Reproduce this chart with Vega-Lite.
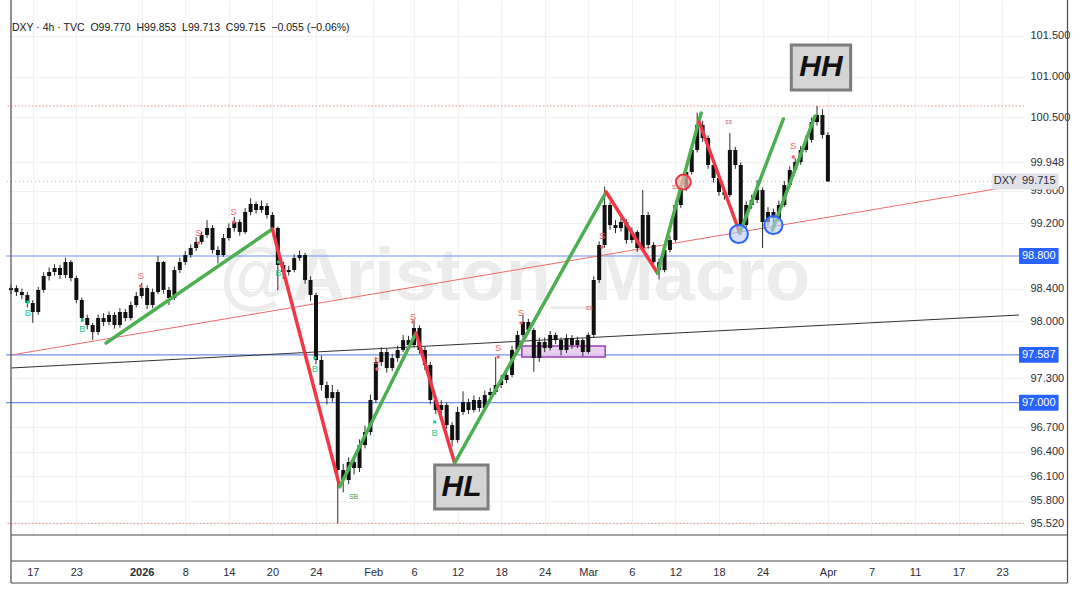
{
 "$schema": "https://vega.github.io/schema/vega-lite/v6.json",
 "width": 1018,
 "height": 535,
 "autosize": {"type": "none"},
 "padding": {"left": 6, "top": 0, "right": 56, "bottom": 57},
 "background": "white",
 "config": {"view": {"stroke": null}, "font": "Liberation Sans"},
 "title": {"text": "DXY · 4h · TVC\u00a0 O99.770\u00a0 H99.853\u00a0 L99.713\u00a0 C99.715\u00a0 −0.055 (−0.06%)", "anchor": "start", "frame": "group", "offset": 0, "dx": 6, "dy": 42, "fontSize": 10.5, "fontWeight": "normal", "color": "#131722", "baseline": "alphabetic"},
 "resolve": {"axis": {"x": "independent", "y": "independent"}},
 "datasets": {
  "candles": [
{"t":0,"o":98.38,"h":98.45,"l":98.33,"c":98.407},
{"t":0.5,"o":98.407,"h":98.44,"l":98.31,"c":98.358},
{"t":1,"o":98.358,"h":98.4,"l":98.27,"c":98.321},
{"t":1.5,"o":98.321,"h":98.36,"l":98.17,"c":98.223},
{"t":2,"o":98.223,"h":98.26,"l":97.98,"c":98.113},
{"t":2.5,"o":98.113,"h":98.42,"l":98.08,"c":98.383},
{"t":3,"o":98.383,"h":98.6,"l":98.35,"c":98.555},
{"t":3.5,"o":98.555,"h":98.66,"l":98.5,"c":98.604},
{"t":4,"o":98.604,"h":98.7,"l":98.56,"c":98.653},
{"t":4.5,"o":98.653,"h":98.69,"l":98.52,"c":98.567},
{"t":5,"o":98.567,"h":98.78,"l":98.53,"c":98.726},
{"t":5.5,"o":98.726,"h":98.75,"l":98.49,"c":98.53},
{"t":6,"o":98.53,"h":98.56,"l":98.22,"c":98.26},
{"t":6.5,"o":98.26,"h":98.29,"l":97.99,"c":98.039},
{"t":7,"o":98.039,"h":98.08,"l":97.9,"c":97.953},
{"t":7.5,"o":97.953,"h":97.98,"l":97.77,"c":97.867},
{"t":8,"o":97.867,"h":98.08,"l":97.83,"c":98.039},
{"t":8.5,"o":98.039,"h":98.1,"l":97.94,"c":97.99},
{"t":9,"o":97.99,"h":98.12,"l":97.95,"c":98.076},
{"t":9.5,"o":98.076,"h":98.11,"l":97.91,"c":97.953},
{"t":10,"o":97.953,"h":98.16,"l":97.92,"c":98.113},
{"t":10.5,"o":98.113,"h":98.15,"l":98.0,"c":98.039},
{"t":11,"o":98.039,"h":98.24,"l":98.01,"c":98.199},
{"t":11.5,"o":98.199,"h":98.36,"l":98.17,"c":98.309},
{"t":12,"o":98.309,"h":98.47,"l":98.28,"c":98.407},
{"t":12.5,"o":98.407,"h":98.44,"l":98.15,"c":98.199},
{"t":13,"o":98.199,"h":98.4,"l":98.16,"c":98.358},
{"t":13.5,"o":98.358,"h":98.8,"l":98.33,"c":98.726},
{"t":14,"o":98.726,"h":98.74,"l":98.34,"c":98.383},
{"t":14.5,"o":98.383,"h":98.42,"l":98.2,"c":98.285},
{"t":15,"o":98.285,"h":98.67,"l":98.26,"c":98.628},
{"t":15.5,"o":98.628,"h":98.78,"l":98.59,"c":98.726},
{"t":16,"o":98.726,"h":98.86,"l":98.69,"c":98.812},
{"t":16.5,"o":98.812,"h":98.94,"l":98.78,"c":98.898},
{"t":17,"o":98.898,"h":99.03,"l":98.86,"c":98.972},
{"t":17.5,"o":98.972,"h":99.1,"l":98.94,"c":99.058},
{"t":18,"o":99.058,"h":99.24,"l":99.02,"c":99.144},
{"t":18.5,"o":99.144,"h":99.18,"l":98.83,"c":98.874},
{"t":19,"o":98.874,"h":98.92,"l":98.71,"c":98.812},
{"t":19.5,"o":98.812,"h":99.07,"l":98.79,"c":99.021},
{"t":20,"o":99.021,"h":99.2,"l":98.99,"c":99.144},
{"t":20.5,"o":99.144,"h":99.28,"l":99.1,"c":99.217},
{"t":21,"o":99.217,"h":99.25,"l":99.05,"c":99.094},
{"t":21.5,"o":99.094,"h":99.39,"l":99.07,"c":99.34},
{"t":22,"o":99.34,"h":99.51,"l":99.3,"c":99.438},
{"t":22.5,"o":99.438,"h":99.47,"l":99.32,"c":99.364},
{"t":23,"o":99.364,"h":99.48,"l":99.33,"c":99.414},
{"t":23.5,"o":99.414,"h":99.45,"l":99.26,"c":99.303},
{"t":24,"o":99.303,"h":99.34,"l":99.1,"c":99.144},
{"t":24.5,"o":99.144,"h":99.16,"l":98.38,"c":98.69},
{"t":25,"o":98.69,"h":98.73,"l":98.52,"c":98.604},
{"t":25.5,"o":98.604,"h":98.68,"l":98.56,"c":98.628},
{"t":26,"o":98.628,"h":98.82,"l":98.6,"c":98.775},
{"t":26.5,"o":98.775,"h":98.87,"l":98.74,"c":98.812},
{"t":27,"o":98.812,"h":98.84,"l":98.46,"c":98.506},
{"t":27.5,"o":98.506,"h":98.55,"l":98.25,"c":98.321},
{"t":28,"o":98.321,"h":98.35,"l":97.47,"c":97.524},
{"t":28.5,"o":97.524,"h":97.58,"l":97.15,"c":97.217},
{"t":29,"o":97.217,"h":97.26,"l":96.98,"c":97.058},
{"t":29.5,"o":97.058,"h":97.22,"l":97.01,"c":97.131},
{"t":30,"o":97.131,"h":97.16,"l":95.52,"c":96.174},
{"t":30.5,"o":96.174,"h":96.25,"l":95.9,"c":96.052},
{"t":31,"o":96.052,"h":96.33,"l":96.0,"c":96.272},
{"t":31.5,"o":96.272,"h":96.35,"l":96.12,"c":96.199},
{"t":32,"o":96.199,"h":96.55,"l":96.15,"c":96.481},
{"t":32.5,"o":96.481,"h":96.72,"l":96.44,"c":96.64},
{"t":33,"o":96.64,"h":97.1,"l":96.6,"c":97.033},
{"t":33.5,"o":97.033,"h":97.56,"l":97.0,"c":97.499},
{"t":34,"o":97.499,"h":97.68,"l":97.45,"c":97.622},
{"t":34.5,"o":97.622,"h":97.66,"l":97.37,"c":97.426},
{"t":35,"o":97.426,"h":97.6,"l":97.39,"c":97.548},
{"t":35.5,"o":97.548,"h":97.7,"l":97.5,"c":97.647},
{"t":36,"o":97.647,"h":97.83,"l":97.62,"c":97.769},
{"t":36.5,"o":97.769,"h":97.82,"l":97.66,"c":97.708},
{"t":37,"o":97.708,"h":98.01,"l":97.68,"c":97.917},
{"t":37.5,"o":97.917,"h":97.95,"l":97.6,"c":97.647},
{"t":38,"o":97.647,"h":97.69,"l":97.4,"c":97.463},
{"t":38.5,"o":97.463,"h":97.5,"l":96.98,"c":97.033},
{"t":39,"o":97.033,"h":97.08,"l":96.86,"c":96.91},
{"t":39.5,"o":96.91,"h":97.03,"l":96.87,"c":96.972},
{"t":40,"o":96.972,"h":97.0,"l":96.68,"c":96.726},
{"t":40.5,"o":96.726,"h":96.76,"l":96.46,"c":96.542},
{"t":41,"o":96.542,"h":96.95,"l":96.51,"c":96.886},
{"t":41.5,"o":96.886,"h":97.14,"l":96.85,"c":97.009},
{"t":42,"o":97.009,"h":97.05,"l":96.86,"c":96.91},
{"t":42.5,"o":96.91,"h":97.09,"l":96.88,"c":97.033},
{"t":43,"o":97.033,"h":97.07,"l":96.89,"c":96.935},
{"t":43.5,"o":96.935,"h":97.15,"l":96.91,"c":97.094},
{"t":44,"o":97.094,"h":97.18,"l":97.05,"c":97.131},
{"t":44.5,"o":97.131,"h":97.56,"l":97.1,"c":97.217},
{"t":45,"o":97.217,"h":97.34,"l":97.18,"c":97.279},
{"t":45.5,"o":97.279,"h":97.4,"l":97.24,"c":97.34},
{"t":46,"o":97.34,"h":97.7,"l":97.31,"c":97.647},
{"t":46.5,"o":97.647,"h":97.88,"l":97.6,"c":97.831},
{"t":47,"o":97.831,"h":98.08,"l":97.8,"c":97.99},
{"t":47.5,"o":97.99,"h":98.03,"l":97.84,"c":97.892},
{"t":48,"o":97.892,"h":97.92,"l":97.38,"c":97.548},
{"t":48.5,"o":97.548,"h":97.8,"l":97.5,"c":97.745},
{"t":49,"o":97.745,"h":97.8,"l":97.62,"c":97.671},
{"t":49.5,"o":97.671,"h":97.88,"l":97.64,"c":97.831},
{"t":50,"o":97.831,"h":97.86,"l":97.72,"c":97.769},
{"t":50.5,"o":97.769,"h":97.8,"l":97.58,"c":97.647},
{"t":51,"o":97.647,"h":97.84,"l":97.61,"c":97.794},
{"t":51.5,"o":97.794,"h":97.83,"l":97.66,"c":97.708},
{"t":52,"o":97.708,"h":97.81,"l":97.67,"c":97.769},
{"t":52.5,"o":97.769,"h":97.79,"l":97.57,"c":97.622},
{"t":53,"o":97.622,"h":97.86,"l":97.6,"c":97.831},
{"t":53.5,"o":97.831,"h":98.55,"l":97.8,"c":98.506},
{"t":54,"o":98.506,"h":98.98,"l":98.47,"c":98.935},
{"t":54.5,"o":98.935,"h":99.65,"l":98.9,"c":99.426},
{"t":55,"o":99.426,"h":99.46,"l":99.12,"c":99.18},
{"t":55.5,"o":99.18,"h":99.24,"l":99.08,"c":99.144},
{"t":56,"o":99.144,"h":99.27,"l":99.1,"c":99.217},
{"t":56.5,"o":99.217,"h":99.25,"l":98.95,"c":98.996},
{"t":57,"o":98.996,"h":99.15,"l":98.96,"c":99.094},
{"t":57.5,"o":99.094,"h":99.12,"l":98.85,"c":98.898},
{"t":58,"o":98.898,"h":99.61,"l":98.87,"c":99.303},
{"t":58.5,"o":99.303,"h":99.34,"l":98.89,"c":98.935},
{"t":59,"o":98.935,"h":98.97,"l":98.68,"c":98.726},
{"t":59.5,"o":98.726,"h":98.77,"l":98.51,"c":98.628},
{"t":60,"o":98.628,"h":98.92,"l":98.6,"c":98.874},
{"t":60.5,"o":98.874,"h":99.05,"l":98.84,"c":98.996},
{"t":61,"o":98.996,"h":99.47,"l":98.97,"c":99.426},
{"t":61.5,"o":99.426,"h":99.69,"l":99.39,"c":99.634},
{"t":62,"o":99.634,"h":99.88,"l":99.6,"c":99.831},
{"t":62.5,"o":99.831,"h":100.15,"l":99.8,"c":100.101},
{"t":63,"o":100.101,"h":100.56,"l":100.07,"c":100.407},
{"t":63.5,"o":100.407,"h":100.46,"l":100.2,"c":100.248},
{"t":64,"o":100.248,"h":100.28,"l":99.87,"c":99.917},
{"t":64.5,"o":99.917,"h":99.96,"l":99.7,"c":99.757},
{"t":65,"o":99.757,"h":99.79,"l":99.54,"c":99.585},
{"t":65.5,"o":99.585,"h":99.62,"l":99.49,"c":99.548},
{"t":66,"o":99.548,"h":100.31,"l":99.52,"c":100.101},
{"t":66.5,"o":100.101,"h":100.14,"l":99.87,"c":99.917},
{"t":67,"o":99.917,"h":99.95,"l":99.08,"c":99.18},
{"t":67.5,"o":99.18,"h":99.47,"l":99.15,"c":99.426},
{"t":68,"o":99.426,"h":99.55,"l":99.38,"c":99.487},
{"t":68.5,"o":99.487,"h":99.73,"l":99.45,"c":99.61},
{"t":69,"o":99.61,"h":99.64,"l":98.9,"c":99.217},
{"t":69.5,"o":99.217,"h":99.4,"l":99.17,"c":99.34},
{"t":70,"o":99.34,"h":99.38,"l":99.18,"c":99.266},
{"t":70.5,"o":99.266,"h":99.48,"l":99.22,"c":99.426},
{"t":71,"o":99.426,"h":99.72,"l":99.4,"c":99.671},
{"t":71.5,"o":99.671,"h":99.9,"l":99.63,"c":99.855},
{"t":72,"o":99.855,"h":100.0,"l":99.82,"c":99.953},
{"t":72.5,"o":99.953,"h":100.15,"l":99.92,"c":100.101},
{"t":73,"o":100.101,"h":100.28,"l":100.07,"c":100.223},
{"t":73.5,"o":100.223,"h":100.5,"l":100.19,"c":100.444},
{"t":74,"o":100.444,"h":100.64,"l":100.4,"c":100.53},
{"t":74.5,"o":100.53,"h":100.6,"l":100.24,"c":100.285},
{"t":75,"o":100.285,"h":100.32,"l":99.71,"c":99.715}
  ],
  "legs": [
   {"t":8.73,"p":97.733,"t2":24.0,"p2":99.131,"dir":"up"},
   {"t":24.0,"p":99.131,"t2":30.18,"p2":95.97,"dir":"down"},
   {"t":30.18,"p":95.97,"t2":37.18,"p2":97.855,"dir":"up"},
   {"t":37.18,"p":97.855,"t2":40.73,"p2":96.26,"dir":"down"},
   {"t":40.73,"p":96.26,"t2":54.64,"p2":99.585,"dir":"up"},
   {"t":54.64,"p":99.585,"t2":59.36,"p2":98.591,"dir":"down"},
   {"t":59.36,"p":98.591,"t2":63.36,"p2":100.555,"dir":"up"},
   {"t":63.18,"p":100.444,"t2":66.91,"p2":99.082,"dir":"down"},
   {"t":66.91,"p":99.082,"t2":70.91,"p2":100.481,"dir":"up"},
   {"t":69.91,"p":99.119,"t2":73.82,"p2":100.518,"dir":"up"}
  ],
  "signals": [
   {"t":1.55,"p":98.1,"pd":98.236,"txt":"B","dir":"buy"},
   {"t":6.55,"p":97.9,"pd":98.015,"txt":"B","dir":"buy"},
   {"t":11.9,"p":98.555,"pd":98.432,"txt":"S","dir":"sell"},
   {"t":17.2,"p":99.082,"pd":98.96,"txt":"S","dir":"sell"},
   {"t":20.45,"p":99.34,"pd":99.217,"txt":"S","dir":"sell"},
   {"t":24.55,"p":98.59,"pd":98.726,"txt":"B","dir":"buy"},
   {"t":27.9,"p":97.413,"pd":97.548,"txt":"B","dir":"buy"},
   {"t":33.6,"p":97.512,"pd":97.413,"txt":"S","dir":"sell"},
   {"t":36.9,"p":98.052,"pd":97.99,"txt":"S","dir":"sell"},
   {"t":38.9,"p":96.628,"pd":96.763,"txt":"B","dir":"buy"},
   {"t":44.73,"p":97.671,"pd":97.561,"txt":"S","dir":"sell"},
   {"t":46.82,"p":98.101,"pd":97.978,"txt":"S","dir":"sell"},
   {"t":54.27,"p":99.045,"pd":98.91,"txt":"S","dir":"sell"},
   {"t":71.82,"p":100.15,"pd":100.015,"txt":"S","dir":"sell"}
  ],
  "smallsignals": [
   {"t":31.45,"p":95.843,"txt":"SB","dir":"sb"},
   {"t":53.09,"p":98.162,"txt":"ss","dir":"ss"},
   {"t":61.0,"p":99.647,"txt":"ss","dir":"ss"},
   {"t":65.9,"p":100.444,"txt":"ss","dir":"ss"}
  ]
 },
 "layer": [
  {
   "data": {"name": "candles"},
   "mark": {"type": "rule", "opacity": 0},
   "encoding": {
    "x": {"field":"t","type":"quantitative","scale":{"domain":[0,92.545],"nice":false,"zero":false},
      "axis": {"orient":"bottom","offset":26,"values":[2,6,12,16,20,24,28,33.25,37,41,45,49,53,57,61,65,69,75,79,83,87,91],
        "labelExpr":"['17','23','2026','8','14','20','24','Feb','6','12','18','24','Mar','6','12','18','24','Apr','7','11','17','23'][indexof([2,6,12,16,20,24,28,33.25,37,41,45,49,53,57,61,65,69,75,79,83,87,91], datum.value)]",
        "labelFontWeight":{"condition":{"test":"datum.value == 12","value":"bold"},"value":"normal"},
        "title":null,"domain":false,"ticks":false,"grid":true,"gridColor":"#f1f1f1","labelFontSize":11,"labelColor":"#2a2e39","labelPadding":5,"labelOverlap":false,"labelFlush":false,"labelBound":false}},
    "y": {"field":"l","type":"quantitative","scale":{"domain":[95.377,101.941],"nice":false,"zero":false},
      "axis": {"orient":"right","values":[101.5,101,100.5,99.948,99.6,99.2,98.4,98,97.3,96.7,96.4,96.1,95.8,95.52],"format":".3f","title":null,"domain":false,"ticks":false,"grid":true,"gridColor":"#f1f1f1","labelFontSize":11,"labelColor":"#2a2e39","labelPadding":6,"labelOverlap":false,"labelBound":false}},
    "y2": {"field":"h"}
   }
  },
  {
   "data": {"values": [{"t":46.27,"p":98.26,"txt":"@Ariston_Macro"}]},
   "mark": {"type": "text", "fontSize": 74, "fontWeight": "bold", "color": "#ececec", "align": "center", "baseline": "alphabetic"},
   "encoding": {
    "x": {"field":"t","type":"quantitative","scale":{"domain":[0,92.545],"nice":false,"zero":false},"axis":null},
    "y": {"field":"p","type":"quantitative","scale":{"domain":[95.377,101.941],"nice":false,"zero":false},"axis":null},
    "text": {"field":"txt"}
   }
  },
  {
   "data": {"values": [{"p":98.8},{"p":97.587},{"p":97.0}]},
   "mark": {"type": "rule", "color": "#6e8ff2", "strokeWidth": 1.2},
   "encoding": {
    "y": {"field":"p","type":"quantitative","scale":{"domain":[95.377,101.941],"nice":false,"zero":false},"axis":null}
   }
  },
  {
   "data": {"values": [{"p":100.64},{"p":95.52}]},
   "mark": {"type": "rule", "color": "#ef8a8a", "strokeWidth": 1, "strokeDash": [1.5, 2]},
   "encoding": {
    "y": {"field":"p","type":"quantitative","scale":{"domain":[95.377,101.941],"nice":false,"zero":false},"axis":null}
   }
  },
  {
   "data": {"values": [{"p":99.715}]},
   "mark": {"type": "rule", "color": "#d9b3b3", "strokeWidth": 1, "strokeDash": [1, 3]},
   "encoding": {
    "y": {"field":"p","type":"quantitative","scale":{"domain":[95.377,101.941],"nice":false,"zero":false},"axis":null}
   }
  },
  {
   "data": {"values": [{"t":0,"p":97.585,"t2":92.545,"p2":99.671,"kind":"red"}]},
   "mark": {"type": "rule", "color": "#ee6a6a", "strokeWidth": 1},
   "encoding": {
    "x": {"field":"t","type":"quantitative","scale":{"domain":[0,92.545],"nice":false,"zero":false},"axis":null},
    "y": {"field":"p","type":"quantitative","scale":{"domain":[95.377,101.941],"nice":false,"zero":false},"axis":null},
    "x2": {"field":"t2"},
    "y2": {"field":"p2"}
   }
  },
  {
   "data": {"values": [{"t":0,"p":97.426,"t2":92.545,"p2":98.076,"kind":"black"}]},
   "mark": {"type": "rule", "color": "#333333", "strokeWidth": 1},
   "encoding": {
    "x": {"field":"t","type":"quantitative","scale":{"domain":[0,92.545],"nice":false,"zero":false},"axis":null},
    "y": {"field":"p","type":"quantitative","scale":{"domain":[95.377,101.941],"nice":false,"zero":false},"axis":null},
    "x2": {"field":"t2"},
    "y2": {"field":"p2"}
   }
  },
  {
   "data": {"values": [{"t":46.9,"p":97.561,"t2":54.55,"p2":97.696}]},
   "mark": {"type": "rect", "fill": "#e6c8ee", "fillOpacity": 0.85, "stroke": "#9c3cb8", "strokeWidth": 1.5},
   "encoding": {
    "x": {"field":"t","type":"quantitative","scale":{"domain":[0,92.545],"nice":false,"zero":false},"axis":null},
    "y": {"field":"p","type":"quantitative","scale":{"domain":[95.377,101.941],"nice":false,"zero":false},"axis":null},
    "x2": {"field":"t2"},
    "y2": {"field":"p2"}
   }
  },
  {
   "data": {"name": "candles"},
   "mark": {"type": "rule", "color": "#2b2b2b", "strokeWidth": 1},
   "encoding": {
    "x": {"field":"t","type":"quantitative","scale":{"domain":[0,92.545],"nice":false,"zero":false},"axis":null},
    "y": {"field":"l","type":"quantitative","scale":{"domain":[95.377,101.941],"nice":false,"zero":false},"axis":null},
    "y2": {"field":"h"}
   }
  },
  {
   "data": {"name": "candles"},
   "mark": {"type": "bar", "size": 4, "color": "#111111"},
   "encoding": {
    "x": {"field":"t","type":"quantitative","scale":{"domain":[0,92.545],"nice":false,"zero":false},"axis":null},
    "y": {"field":"o","type":"quantitative","scale":{"domain":[95.377,101.941],"nice":false,"zero":false},"axis":null},
    "y2": {"field":"c"}
   }
  },
  {
   "data": {"name": "legs"},
   "mark": {"type": "rule", "strokeWidth": 3.5, "strokeCap": "round"},
   "encoding": {
    "x": {"field":"t","type":"quantitative","scale":{"domain":[0,92.545],"nice":false,"zero":false},"axis":null},
    "y": {"field":"p","type":"quantitative","scale":{"domain":[95.377,101.941],"nice":false,"zero":false},"axis":null},
    "x2": {"field":"t2"},
    "y2": {"field":"p2"},
    "color": {"field":"dir","type":"nominal","scale":{"domain":["up","down","sell","buy","sb","ss"],"range":["#4caf50","#f23645","#f2636f","#1ccf8a","#3f9e48","#cc6b6b"]},"legend":null}
   }
  },
  {
   "data": {"values": [{"t":61.73,"p":99.708}]},
   "mark": {"type": "point", "shape": "circle", "size": 220, "filled": false, "fill": "#f6b3b3", "fillOpacity": 0.7, "stroke": "#f23645", "strokeWidth": 2},
   "encoding": {
    "x": {"field":"t","type":"quantitative","scale":{"domain":[0,92.545],"nice":false,"zero":false},"axis":null},
    "y": {"field":"p","type":"quantitative","scale":{"domain":[95.377,101.941],"nice":false,"zero":false},"axis":null}
   }
  },
  {
   "data": {"values": [{"t":66.82,"p":99.07},{"t":70.0,"p":99.18}]},
   "mark": {"type": "point", "shape": "circle", "size": 330, "filled": false, "fill": "#b7c9f5", "fillOpacity": 0.6, "stroke": "#2962ff", "strokeWidth": 2},
   "encoding": {
    "x": {"field":"t","type":"quantitative","scale":{"domain":[0,92.545],"nice":false,"zero":false},"axis":null},
    "y": {"field":"p","type":"quantitative","scale":{"domain":[95.377,101.941],"nice":false,"zero":false},"axis":null}
   }
  },
  {
   "data": {"name": "signals"},
   "mark": {"type": "point", "shape": "circle", "size": 12, "filled": true, "opacity": 1},
   "encoding": {
    "x": {"field":"t","type":"quantitative","scale":{"domain":[0,92.545],"nice":false,"zero":false},"axis":null},
    "y": {"field":"pd","type":"quantitative","scale":{"domain":[95.377,101.941],"nice":false,"zero":false},"axis":null},
    "color": {"field":"dir","type":"nominal","scale":{"domain":["up","down","sell","buy","sb","ss"],"range":["#4caf50","#f23645","#f2636f","#1ccf8a","#3f9e48","#cc6b6b"]},"legend":null}
   }
  },
  {
   "data": {"name": "signals"},
   "mark": {"type": "text", "fontSize": 9.5, "align": "center", "baseline": "middle"},
   "encoding": {
    "x": {"field":"t","type":"quantitative","scale":{"domain":[0,92.545],"nice":false,"zero":false},"axis":null},
    "y": {"field":"p","type":"quantitative","scale":{"domain":[95.377,101.941],"nice":false,"zero":false},"axis":null},
    "text": {"field":"txt"},
    "color": {"field":"dir","type":"nominal","scale":{"domain":["up","down","sell","buy","sb","ss"],"range":["#4caf50","#f23645","#f2636f","#1ccf8a","#3f9e48","#cc6b6b"]},"legend":null}
   }
  },
  {
   "data": {"name": "smallsignals"},
   "mark": {"type": "text", "fontSize": 7, "align": "center", "baseline": "middle"},
   "encoding": {
    "x": {"field":"t","type":"quantitative","scale":{"domain":[0,92.545],"nice":false,"zero":false},"axis":null},
    "y": {"field":"p","type":"quantitative","scale":{"domain":[95.377,101.941],"nice":false,"zero":false},"axis":null},
    "text": {"field":"txt"},
    "color": {"field":"dir","type":"nominal","scale":{"domain":["up","down","sell","buy","sb","ss"],"range":["#4caf50","#f23645","#f2636f","#1ccf8a","#3f9e48","#cc6b6b"]},"legend":null}
   }
  },
  {
   "data": {"values": [{"t":38.9,"p":96.236,"t2":43.8,"p2":95.696},{"t":71.64,"p":101.389,"t2":77.09,"p2":100.837}]},
   "mark": {"type": "rect", "fill": "#d4d4d4", "stroke": "#7d7d7d", "strokeWidth": 3},
   "encoding": {
    "x": {"field":"t","type":"quantitative","scale":{"domain":[0,92.545],"nice":false,"zero":false},"axis":null},
    "y": {"field":"p","type":"quantitative","scale":{"domain":[95.377,101.941],"nice":false,"zero":false},"axis":null},
    "x2": {"field":"t2"},
    "y2": {"field":"p2"}
   }
  },
  {
   "data": {"values": [{"t":41.36,"p":95.966,"txt":"HL"},{"t":74.36,"p":101.113,"txt":"HH"}]},
   "mark": {"type": "text", "fontSize": 30, "fontWeight": "bold", "fontStyle": "italic", "color": "#111111", "align": "center", "baseline": "middle"},
   "encoding": {
    "x": {"field":"t","type":"quantitative","scale":{"domain":[0,92.545],"nice":false,"zero":false},"axis":null},
    "y": {"field":"p","type":"quantitative","scale":{"domain":[95.377,101.941],"nice":false,"zero":false},"axis":null},
    "text": {"field":"txt"}
   }
  },
  {
   "data": {"values": [
     {"t":0,"p":101.941,"t2":0,"p2":94.788},
     {"t":97,"p":101.941,"t2":97,"p2":94.788},
     {"t":0,"p":95.377,"t2":97,"p2":95.377},
     {"t":0,"p":95.058,"t2":97,"p2":95.058},
     {"t":0,"p":94.788,"t2":97,"p2":94.788}
   ]},
   "mark": {"type": "rule", "color": "#4a4a4a", "strokeWidth": 1.2, "clip": false},
   "encoding": {
    "x": {"field":"t","type":"quantitative","scale":{"domain":[0,92.545],"nice":false,"zero":false},"axis":null},
    "y": {"field":"p","type":"quantitative","scale":{"domain":[95.377,101.941],"nice":false,"zero":false},"axis":null},
    "x2": {"field":"t2"},
    "y2": {"field":"p2"}
   }
  },
  {
   "data": {"values": [{"t":92.545,"p":98.898,"t2":96.18,"p2":98.702},{"t":92.545,"p":97.685,"t2":96.18,"p2":97.489},{"t":92.545,"p":97.098,"t2":96.18,"p2":96.902}]},
   "mark": {"type": "rect", "fill": "#2962ff", "cornerRadius": 1, "clip": false},
   "encoding": {
    "x": {"field":"t","type":"quantitative","scale":{"domain":[0,92.545],"nice":false,"zero":false},"axis":null},
    "y": {"field":"p","type":"quantitative","scale":{"domain":[95.377,101.941],"nice":false,"zero":false},"axis":null},
    "x2": {"field":"t2"},
    "y2": {"field":"p2"}
   }
  },
  {
   "data": {"values": [{"t":94.36,"p":98.8,"txt":"98.800"},{"t":94.36,"p":97.587,"txt":"97.587"},{"t":94.36,"p":97.0,"txt":"97.000"}]},
   "mark": {"type": "text", "fontSize": 11, "color": "#ffffff", "align": "center", "baseline": "middle", "clip": false},
   "encoding": {
    "x": {"field":"t","type":"quantitative","scale":{"domain":[0,92.545],"nice":false,"zero":false},"axis":null},
    "y": {"field":"p","type":"quantitative","scale":{"domain":[95.377,101.941],"nice":false,"zero":false},"axis":null},
    "text": {"field":"txt"}
   }
  },
  {
   "data": {"values": [{"t":90.09,"p":99.813,"t2":96.18,"p2":99.617}]},
   "mark": {"type": "rect", "fill": "#e0e2e7", "cornerRadius": 1, "clip": false},
   "encoding": {
    "x": {"field":"t","type":"quantitative","scale":{"domain":[0,92.545],"nice":false,"zero":false},"axis":null},
    "y": {"field":"p","type":"quantitative","scale":{"domain":[95.377,101.941],"nice":false,"zero":false},"axis":null},
    "x2": {"field":"t2"},
    "y2": {"field":"p2"}
   }
  },
  {
   "data": {"values": [{"t":91.27,"p":99.715,"txt":"DXY"},{"t":94.36,"p":99.715,"txt":"99.715"}]},
   "mark": {"type": "text", "fontSize": 11, "color": "#2a2e39", "align": "center", "baseline": "middle", "clip": false},
   "encoding": {
    "x": {"field":"t","type":"quantitative","scale":{"domain":[0,92.545],"nice":false,"zero":false},"axis":null},
    "y": {"field":"p","type":"quantitative","scale":{"domain":[95.377,101.941],"nice":false,"zero":false},"axis":null},
    "text": {"field":"txt"}
   }
  }
 ]
}
